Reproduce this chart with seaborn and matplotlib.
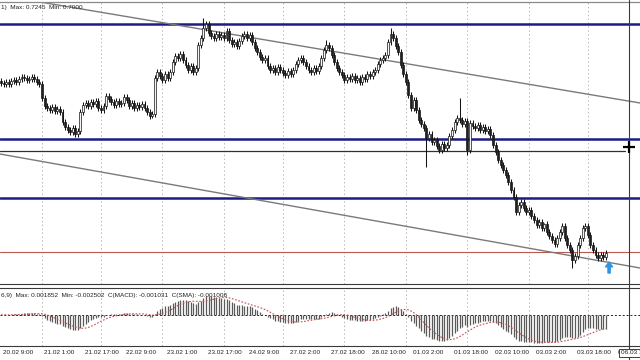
import numpy as np
import pandas as pd
import matplotlib
matplotlib.use("Agg")
import matplotlib.pyplot as plt
import seaborn as sns
from matplotlib.lines import Line2D
from matplotlib.transforms import blended_transform_factory

sns.set_style("white")
plt.rcParams['font.family'] = ['Liberation Sans', 'DejaVu Sans']

# ---- data (closes in pips above 0.7000, one per hourly bar) ----
close_pips = [
    180, 179, 181, 179, 182, 183, 181, 184, 186, 185, 183, 184, 186, 184, 181, 179,
    165, 157, 155, 153, 156, 152, 154, 151, 141, 136, 133, 131, 135, 129, 132, 151,
    158, 160, 157, 161, 159, 162, 155, 153, 157, 167, 164, 161, 158, 162, 159, 160,
    166, 163, 157, 160, 155, 158, 156, 159, 155, 151, 147, 149,
    185, 191, 187, 183, 189, 185, 191, 201, 207, 205, 209, 203, 198, 193, 197, 191,
    195, 218, 225, 235, 239, 230, 227, 225, 229, 226, 228, 225, 232, 223, 219, 221,
    217, 222, 227, 229, 225, 228, 221, 215, 211, 206, 203, 205, 197, 193, 195, 191,
    196, 193, 190, 188, 192, 189, 193, 199, 203, 205, 201, 197, 193, 191, 195, 192,
    197, 205, 213, 218, 215, 208, 201, 195, 191, 188, 183, 186, 184, 187, 183, 185,
    181, 186, 184, 189, 187, 191, 193, 199, 203, 205, 208, 221, 229, 225, 217, 211,
    198, 189, 181, 168, 155, 163, 153, 143, 139, 135, 125, 129, 121, 123, 117, 113,
    119, 115, 118, 127, 133, 141, 145, 143, 139, 142, 113, 140, 137, 135, 138, 133,
    136, 132, 134, 128, 118, 111, 103, 98, 93, 88, 81, 73, 66, 51, 58, 61,
    55, 51, 53, 47, 43, 38, 41, 35, 39, 31, 27, 23, 19, 25, 31, 37,
    25, 18, 13, 3, 7, 18, 25, 35, 37, 28, 18, 13, 8, 5, 8, 6, 10,
]
high_spikes = {79: 245, 127: 223, 152: 235, 179: 165, 212: 40}
low_spikes = {29: 126, 59: 145, 166: 96, 182: 108, 223: -5}
wick_pips = 3
first_open_pips = 182

blue_levels = [0.7239, 0.7124, 0.7065]
black_level = 0.7112
red_level = 0.7011
upper_trend_x = [15.2, 249.4]
upper_trend_y = [0.7261, 0.7160]
lower_trend_x = [-0.4, 249.4]
lower_trend_y = [0.7109, 0.6995]

time_labels = ["20.02 9:00", "21.02 1:00", "21.02 17:00", "22.02 9:00", "23.02 1:00",
               "23.02 17:00", "24.02 9:00", "27.02 2:00", "27.02 18:00", "28.02 10:00",
               "01.03 2:00", "01.03 18:00", "02.03 10:00", "03.03 2:00", "03.03 18:00",
               "06.03 10:00"]
time_label_bars = [0, 16, 32, 48, 64, 80, 96, 112, 128, 144, 160, 176, 192, 208, 224, 240]
grid_bars = [16, 39, 63, 87, 110, 134, 158, 182, 206, 229]

main_title = "1)  Max: 0.7245  Min: 0.7000"
macd_title = "6,9)  Max: 0.001852  Min: -0.002502  C(MACD): -0.001031  C(SMA): -0.001008"
cursor_label = "06.03 12:00"

# ---- derived ----
n = len(close_pips)
idx = np.arange(n)
close = 0.7 + np.array(close_pips) / 10000.0
opn = np.concatenate([[0.7 + first_open_pips / 10000.0], close[:-1]])
high = np.maximum(opn, close) + wick_pips / 10000.0
low = np.minimum(opn, close) - wick_pips / 10000.0
for k, v in high_spikes.items():
    high[k] = 0.7 + v / 10000.0
for k, v in low_spikes.items():
    low[k] = 0.7 + v / 10000.0

s = pd.Series(close)
macd = (s.ewm(span=12, adjust=False).mean() - s.ewm(span=26, adjust=False).mean()).values
signal = pd.Series(macd).rolling(9, min_periods=1).mean().values
df_sig = pd.DataFrame({"bar": idx, "signal": signal})

# ---- figure ----
W, H = 640, 360
fig = plt.figure(figsize=(6.4, 3.6), dpi=100, facecolor="white")
ax = fig.add_axes([0, 1 - 284 / H, 1, (284 - 2) / H])
axm = fig.add_axes([0, 1 - 346 / H, 1, (346 - 288) / H])

xlim = (-1 / 2.5625, 639 / 2.5625)
for a in (ax, axm):
    a.set_xlim(*xlim)
    a.set_xticks([])
    a.set_yticks([])
    a.set_facecolor("white")
    for g in grid_bars:
        a.axvline(g, color="#b8b8b8", lw=0.7, ls=(0, (1.5, 2.5)), zorder=0)
    for sp in ("left", "right"):
        a.spines[sp].set_visible(False)

ax.set_ylim(0.6979, 0.7261)
ax.spines["top"].set_color("#8a8a8a")
ax.spines["top"].set_linewidth(0.9)
ax.spines["bottom"].set_color("#3a3a3a")
ax.spines["bottom"].set_linewidth(0.8)

# horizontal levels
for lv in blue_levels:
    ax.axhline(lv, color="#1c1c86", lw=1.8, zorder=2)
ax.plot([xlim[0], (625 - 1) / 2.5625], [black_level, black_level], color="#303030", lw=0.9, zorder=2)
ax.axhline(red_level, color="#b85a50", lw=0.8, zorder=2)

# trend lines
sns.lineplot(x=upper_trend_x, y=upper_trend_y, ax=ax, color="#7a7a7a", lw=1.0, zorder=2)
sns.lineplot(x=lower_trend_x, y=lower_trend_y, ax=ax, color="#7a7a7a", lw=1.0, zorder=2)

# candles
up = close >= opn
ax.vlines(idx, low, high, color="#151515", lw=0.75, zorder=3)
body_h = np.maximum(np.abs(close - opn), 0.00005)
ax.bar(idx, body_h, bottom=np.minimum(opn, close), width=0.78,
       color=np.where(up, "#f4f4f4", "#202020"), edgecolor="#151515", linewidth=0.5, zorder=4)

# blue arrow
ax.annotate("", xy=(237.3, 0.7001), xytext=(237.3, 0.6990),
            arrowprops=dict(facecolor="#2f95e0", edgecolor="#2f95e0", width=1.6,
                            headwidth=5, headlength=3.5), zorder=5)

# MACD panel
mx = max(macd.max(), signal.max())
mn = min(macd.min(), signal.min())
span = (mx - mn) / 47.0
axm.set_ylim(mn - 3 * span, mx + 8 * span)
for sp in ("top", "bottom"):
    axm.spines[sp].set_color("#3a3a3a")
    axm.spines[sp].set_linewidth(0.8)
axm.axhline(0, color="#202020", lw=0.7, ls=(0, (2, 2)), zorder=1)
axm.vlines(idx, 0, macd, color="#5a5a5a", lw=0.9, zorder=2)
sns.lineplot(data=df_sig, x="bar", y="signal", ax=axm, color="#c0504d", lw=0.8,
             linestyle=(0, (1.5, 1.5)), zorder=3)
axm.set_xlabel("")
axm.set_ylabel("")
ax.set_xlabel("")
ax.set_ylabel("")

# texts
fig.text(0.001, 1 - 8 / H, main_title, fontsize=4.6, color="#222222", va="center", ha="left")
fig.text(0.001, 1 - 295 / H, macd_title, fontsize=4.6, color="#222222", va="center", ha="left", zorder=10)

tr = blended_transform_factory(axm.transData, fig.transFigure)
for b, lab in zip(time_label_bars, time_labels):
    fig.text(b + 0.6, 1 - 353 / H, lab, transform=tr, fontsize=4.6, color="#222222",
             va="center", ha="left")

# crosshair
xc = 629 / W
fig.add_artist(Line2D([xc, xc], [0, 1], color="#3c3c3c", lw=0.8))
fig.add_artist(Line2D([xc], [1 - 147 / H], marker="+", markersize=9, mew=1.6, color="black"))
fig.text(621 / W, 1 - 353 / H, cursor_label, fontsize=4.6, color="#222222", va="center", ha="left",
         zorder=20,
         bbox=dict(boxstyle="square,pad=0.25", facecolor="white", edgecolor="#222222", lw=0.6))

fig.savefig("out.png", dpi=100, facecolor="white")
